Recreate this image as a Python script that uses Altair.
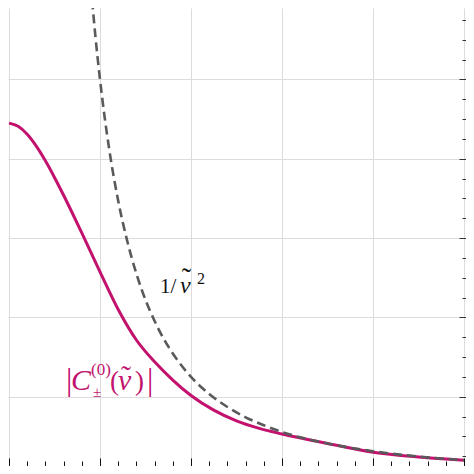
import altair as alt
import pandas as pd

# |C_pm^(0)(nu)|
nu_c = [0.0, 0.1, 0.2, 0.3, 0.4, 0.5, 0.6, 0.8, 1.0, 1.2, 1.4, 1.6, 1.8, 2.0, 2.25, 2.5, 2.75, 3.0, 3.5, 4.0, 4.5, 5.0]
c_vals = [0.890, 0.882, 0.862, 0.832, 0.795, 0.753, 0.708, 0.613, 0.515, 0.420, 0.343, 0.288, 0.242, 0.203, 0.166, 0.139, 0.120, 0.106, 0.082, 0.060, 0.048, 0.040]

# 1/nu^2 (dashed)
nu_d = [0.9, 0.95, 1.0, 1.05, 1.1, 1.2, 1.3, 1.4, 1.5, 1.6, 1.7, 1.8, 2.0, 2.2, 2.4, 2.6, 2.8, 3.0, 3.5, 4.0, 4.5, 5.0]
d_vals = [1.235, 1.108, 1.0, 0.907, 0.826, 0.694, 0.592, 0.510, 0.444, 0.391, 0.346, 0.309, 0.250, 0.207, 0.174, 0.148, 0.128, 0.111, 0.082, 0.0625, 0.049, 0.040]

x_ticks = [0.0, 0.2, 0.4, 0.6, 0.8, 1.0, 1.2, 1.4, 1.6, 1.8, 2.0, 2.2, 2.4, 2.6, 2.8,
           3.0, 3.2, 3.4, 3.6, 3.8, 4.0, 4.2, 4.4, 4.6, 4.8, 5.0]
y_ticks = [0.05, 0.10, 0.15, 0.20, 0.25, 0.30, 0.35, 0.40, 0.45, 0.50, 0.55, 0.60,
           0.65, 0.70, 0.75, 0.80, 0.85, 0.90, 0.95, 1.00, 1.05, 1.10, 1.15]

# upright label pieces: text, x, y, font size, colour
lab_text = ["1/", "2", "|", "(0)", "±", "(", ")", "|"]
lab_x = [1.659, 2.066, 0.626, 0.901, 0.923, 1.110, 1.385, 1.516]
lab_y = [0.4615, 0.484, 0.217, 0.254, 0.199, 0.217, 0.217, 0.217]
lab_size = [21, 16, 32, 17, 15, 27, 27, 32]
lab_col = ["#111111", "#111111", "#C2126E", "#C2126E", "#C2126E", "#C2126E", "#C2126E", "#C2126E"]

# italic label pieces
it_text = ["ν", "C", "ν"]
it_x = [1.879, 0.681, 1.198]
it_y = [0.4615, 0.217, 0.217]
it_size = [24, 30, 30]
it_col = ["#111111", "#C2126E", "#C2126E"]

# tildes over nu (centred)
tl_text = ["˜", "˜"]
tl_x = [1.950, 1.286]
tl_y = [0.477, 0.227]
tl_size = [28, 30]
tl_col = ["#111111", "#C2126E"]

W, H = 458, 458
CRIMSON = "#C2126E"

xs = alt.Scale(domain=[-0.011, 5.022], nice=False, zero=False)
ys = alt.Scale(domain=[0.0252, 1.1803], nice=False, zero=False)

xmaj = "abs(datum.value - round(datum.value)) < 0.001"
ymaj = "abs(datum.value * 5 - round(datum.value * 5)) < 0.001"

xaxis = alt.Axis(orient="top", offset=-H, values=x_ticks, tickCount=200, labels=False, domain=False, title=None,
                 grid=True, gridColor="#dcdcdc", gridWidth=1,
                 gridOpacity={"condition": {"test": xmaj, "value": 1}, "value": 0},
                 tickColor="#111111", tickWidth=1,
                 tickSize={"condition": {"test": xmaj, "value": 8}, "value": 5})
yaxis = alt.Axis(orient="left", offset=-W, values=y_ticks, tickCount=200, labels=False, domain=False, title=None,
                 grid=True, gridColor="#dcdcdc", gridWidth=1,
                 gridOpacity={"condition": {"test": ymaj, "value": 1}, "value": 0},
                 tickColor="#333333", tickWidth=1,
                 tickSize={"condition": {"test": ymaj, "value": 7}, "value": 4})

cdf = pd.DataFrame({"nu": nu_c, "v": c_vals})
ddf = pd.DataFrame({"nu": nu_d, "v": d_vals})
ldf = pd.DataFrame({"t": lab_text, "x": lab_x, "y": lab_y, "s": lab_size, "c": lab_col})
idf = pd.DataFrame({"t": it_text, "x": it_x, "y": it_y, "s": it_size, "c": it_col})
tdf = pd.DataFrame({"t": tl_text, "x": tl_x, "y": tl_y, "s": tl_size, "c": tl_col})

red = alt.Chart(cdf).mark_line(color=CRIMSON, strokeWidth=3, interpolate="monotone", clip=True).encode(
    x=alt.X("nu:Q", scale=xs, axis=xaxis),
    y=alt.Y("v:Q", scale=ys, axis=yaxis),
)
dash = alt.Chart(ddf).mark_line(color="#5a5a5a", strokeWidth=2.6, strokeDash=[9, 5],
                                interpolate="monotone", clip=True).encode(
    x=alt.X("nu:Q", scale=xs),
    y=alt.Y("v:Q", scale=ys),
)


def text_layer(df, align, style):
    kw = dict(align=align, baseline="alphabetic", font="Liberation Serif")
    if style:
        kw["fontStyle"] = style
    return alt.Chart(df).mark_text(**kw).encode(
        x=alt.X("x:Q", scale=xs), y=alt.Y("y:Q", scale=ys), text="t:N",
        size=alt.Size("s:Q", scale=None, legend=None),
        color=alt.Color("c:N", scale=None, legend=None),
    )


lab = text_layer(ldf, "left", None)
ita = text_layer(idf, "left", "italic")
til = text_layer(tdf, "center", None)

chart = alt.layer(red, dash, lab, ita, til).properties(
    width=W, height=H, padding=0, autosize=alt.AutoSizeParams(type="none"), background="white"
).configure_view(stroke=None)

chart.save("out.html", embed_options={"renderer": "svg", "actions": False})
